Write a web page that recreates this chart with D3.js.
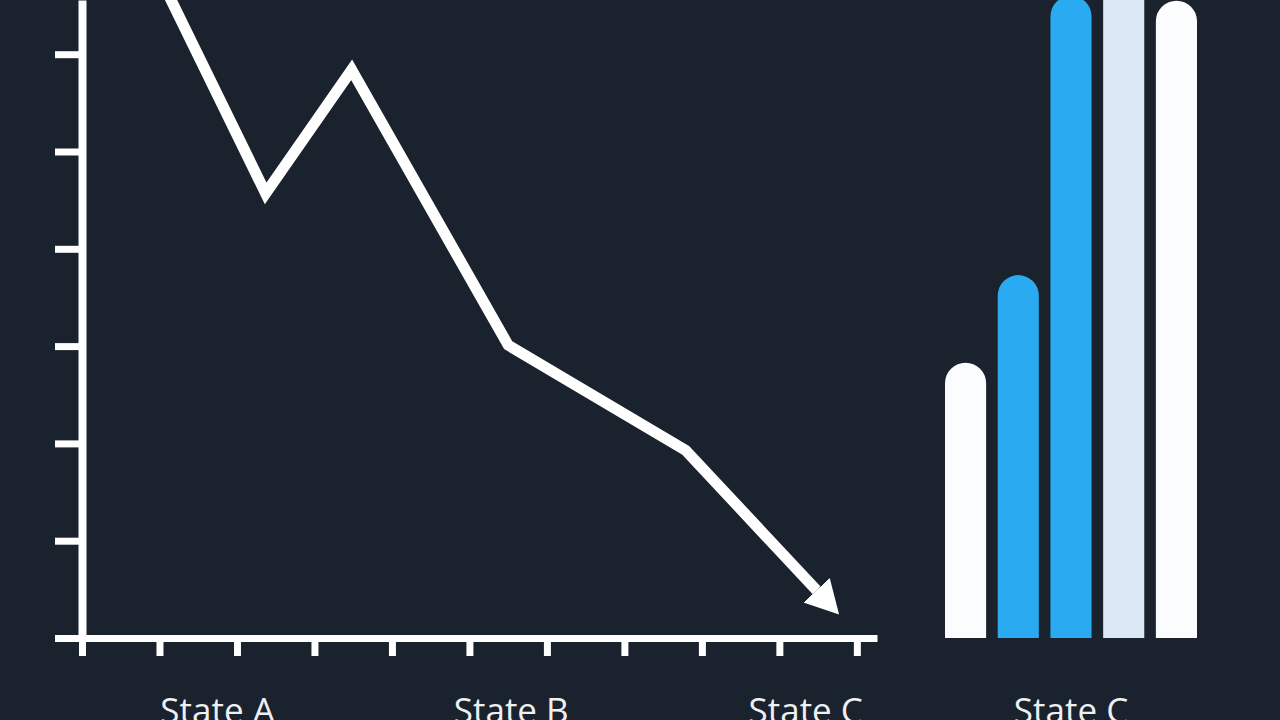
<!DOCTYPE html>
<html>
<head>
<meta charset="utf-8">
<script src="https://cdn.jsdelivr.net/npm/d3@7"></script>
<style>
  html, body { margin: 0; padding: 0; background: #1b222d; overflow: hidden; }
  svg { display: block; }
</style>
</head>
<body>
<div id="chart"></div>
<script>
// line: x = position on the state axis, y = level
const lineX = [1.0, 2.37, 3.48, 5.5, 7.79, 9.48];
const lineY = [6.8, 4.57, 5.84, 3.01, 1.93, 0.49];
const xTickValues = [0, 1, 2, 3, 4, 5, 6, 7, 8, 9, 10];
const yTickValues = [0, 1, 2, 3, 4, 5, 6];
const stateLabels = ['State A', 'State B', 'State C'];
const stateLabelPos = [1.75, 5.54, 9.34];

// bars on the right
const barKeys = ['b1', 'b2', 'b3', 'b4', 'b5'];
const barValues = [2.83, 3.73, 6.6, 7.2, 6.55];
const barLabel = 'State C';

const drawChart = (element) => {
  const width = 1280;
  const height = 720;
  const barColors = ['#fbfcfd', '#29aaf1', '#29aaf1', '#dae9f5', '#fbfcfd'];

  const svg = d3
    .select(element)
    .append('svg')
    .attr('width', width)
    .attr('height', height);

  svg.append('rect').attr('width', width).attr('height', height).attr('fill', '#1a222d');

  const x = d3.scaleLinear().domain([0, 10.26]).range([82, 877]);
  const y = d3.scaleLinear().domain([0, 6.557]).range([638, 0]);

  // axes
  const yAxis = svg
    .append('g')
    .attr('transform', `translate(${x(0)},0)`)
    .call(d3.axisLeft(y).tickValues(yTickValues).tickSize(27).tickSizeOuter(0).tickFormat(''));
  yAxis.select('.domain').attr('stroke', '#fff').attr('stroke-width', 8);
  yAxis.selectAll('.tick line').attr('stroke', '#fff').attr('stroke-width', 7);

  const xAxis = svg
    .append('g')
    .attr('transform', `translate(0,${y(0)})`)
    .call(d3.axisBottom(x).tickValues(xTickValues).tickSize(18).tickSizeOuter(0).tickFormat(''));
  xAxis.select('.domain').attr('stroke', '#fff').attr('stroke-width', 7);
  xAxis.selectAll('.tick line').attr('stroke', '#fff').attr('stroke-width', 7);

  // arrow head
  svg
    .append('defs')
    .append('marker')
    .attr('id', 'arrow')
    .attr('markerUnits', 'userSpaceOnUse')
    .attr('markerWidth', 40)
    .attr('markerHeight', 40)
    .attr('viewBox', '0 -20 40 40')
    .attr('refX', 0)
    .attr('refY', 0)
    .attr('orient', 'auto')
    .append('path')
    .attr('d', 'M0,-18L33,0L0,18Z')
    .attr('fill', '#fff');

  const line = d3
    .line()
    .x((d) => x(d[0]))
    .y((d) => y(d[1]));

  svg
    .append('path')
    .datum(d3.zip(lineX, lineY))
    .attr('d', line)
    .attr('fill', 'none')
    .attr('stroke', '#fff')
    .attr('stroke-width', 11)
    .attr('stroke-linejoin', 'miter')
    .attr('marker-end', 'url(#arrow)');

  // bars
  const xb = d3.scaleBand().domain(barKeys).range([945, 1197]).paddingInner(0.22).paddingOuter(0);
  const w = xb.bandwidth();
  const r = w / 2;
  svg
    .selectAll('.bar')
    .data(barValues)
    .enter()
    .append('path')
    .attr('class', 'bar')
    .attr('d', (d, i) => {
      const x0 = xb(barKeys[i]);
      const top = y(d);
      return `M${x0},${y(0)}V${top + r}A${r},${r} 0 0 1 ${x0 + w},${top + r}V${y(0)}Z`;
    })
    .attr('fill', (d, i) => barColors[i]);

  // labels (cut by the bottom edge, as in the original frame)
  const labelStyle = (sel) =>
    sel
      .attr('text-anchor', 'middle')
      .attr('y', 723)
      .style('font-family', '"Open Sans", sans-serif')
      .style('font-size', '35px')
      .style('fill', '#eef0f2');

  svg
    .selectAll('.state')
    .data(stateLabels)
    .enter()
    .append('text')
    .attr('class', 'state')
    .attr('x', (d, i) => x(stateLabelPos[i]))
    .text((d) => d)
    .call(labelStyle);

  svg
    .append('text')
    .attr('x', (xb.range()[0] + xb.range()[1]) / 2)
    .text(barLabel)
    .call(labelStyle);
};

drawChart(document.getElementById('chart'));
</script>
</body>
</html>
